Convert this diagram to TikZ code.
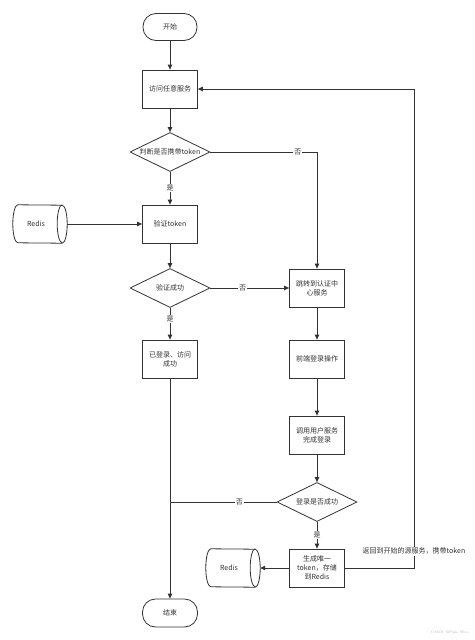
\documentclass[tikz,border=0pt]{standalone}
\usepackage{fontspec}
\newfontfamily\cjk{Noto Sans CJK SC}
\usetikzlibrary{shapes.geometric,arrows.meta}
\definecolor{linec}{HTML}{333333}
\definecolor{textc}{HTML}{333333}
\tikzset{
  txt/.style={font=\cjk\fontsize{7}{9}\selectfont, text=textc},
  box/.style={txt, draw=linec, line width=0.8pt, rectangle, minimum width=55pt, minimum height=38pt, inner sep=1pt, align=center},
  term/.style={box, rounded corners=13pt, minimum height=28pt},
  dec/.style={txt, draw=linec, line width=0.8pt, diamond, shape aspect=2, minimum width=80pt, minimum height=39pt, inner sep=0pt},
  dbnode/.style={txt, rectangle, minimum width=54pt, minimum height=38pt, inner sep=0pt},
  lbl/.style={txt, fill=white, inner sep=1pt},
  conn/.style={line width=0.8pt, draw=linec},
  arr/.style={conn, -{Triangle[length=5pt,width=4.5pt]}},
  wm/.style={font=\fontsize{3.5}{4}\selectfont, text=gray!60}
}
\newcommand{\dbshape}[1]{%
  \draw[conn] ([xshift=5pt]#1.north west) arc[start angle=90, end angle=270, x radius=5pt, y radius=19pt]
    -- ([xshift=-5pt]#1.south east) arc[start angle=-90, end angle=90, x radius=5pt, y radius=19pt] -- cycle;
  \draw[conn] ([xshift=-5pt]#1.north east) arc[start angle=90, end angle=270, x radius=5pt, y radius=19pt];}
\begin{document}
\begin{tikzpicture}[x=1pt,y=-1pt]
\useasboundingbox[fill=white] (0,0) rectangle (474,640);
\node[term, minimum width=54pt, minimum height=27pt] (start) at (170,27) {开始};
\node[box] (visit) at (170,89) {访问任意服务};
\node[dec] (judge) at (170,152) {判断是否携带token};
\node[box] (verify) at (170,224) {验证token};
\node[dbnode] (redisA) at (40,224) {\hspace*{-8pt}Redis};
\node[dec] (ok) at (170,288) {验证成功};
\node[box] (logged) at (170,359) {已登录、访问\\成功};
\node[box] (jump) at (317,288) {跳转到认证中\\心服务};
\node[box] (front) at (317,359) {前端登录操作};
\node[box] (callsvc) at (317,435) {调用用户服务\\完成登录};
\node[dec] (loginok) at (317,502) {登录是否成功};
\node[box, inner sep=0pt] (gen) at (317,568) {生成唯一\\token，存储\\到Redis};
\node[dbnode] (redisB) at (233,568) {\hspace*{-8pt}Redis};
\node[term, minimum width=55pt, minimum height=28pt] (endn) at (170,613) {结束};
\coordinate (join) at (170,502);
\coordinate (retB) at (414,568);
\coordinate (retT) at (414,89);
\dbshape{redisA}
\dbshape{redisB}
\draw[arr] (start) -- (visit);
\draw[arr] (visit) -- (judge);
\draw[arr] (judge) -- node[lbl]{是} (verify);
\draw[arr] (judge.east) -| node[lbl, pos=0.41]{否} (jump.north);
\draw[arr] (redisA.east) -- (verify.west);
\draw[arr] (verify) -- (ok);
\draw[arr] (ok) -- node[lbl, pos=0.35]{是} (logged);
\draw[arr] (ok.east) -- node[lbl, pos=0.41]{否} (jump.west);
\draw[arr] (logged) -- (endn);
\draw[arr] (jump) -- (front);
\draw[arr] (front) -- (callsvc);
\draw[arr] (callsvc) -- (loginok);
\draw[conn] (loginok.west) -- node[lbl, pos=0.35]{否} (join);
\draw[arr] (loginok) -- node[lbl]{是} (gen);
\draw[arr] (gen) -- (redisB.east);
\draw[arr] (gen.east) -- (retB) -- node[lbl, pos=0.035]{返回到开始的源服务，携带token} (retT) -- (visit.east);
\node[wm] (mark) at (450,632) {CSDN @Pike Woo};
\end{tikzpicture}
\end{document}
